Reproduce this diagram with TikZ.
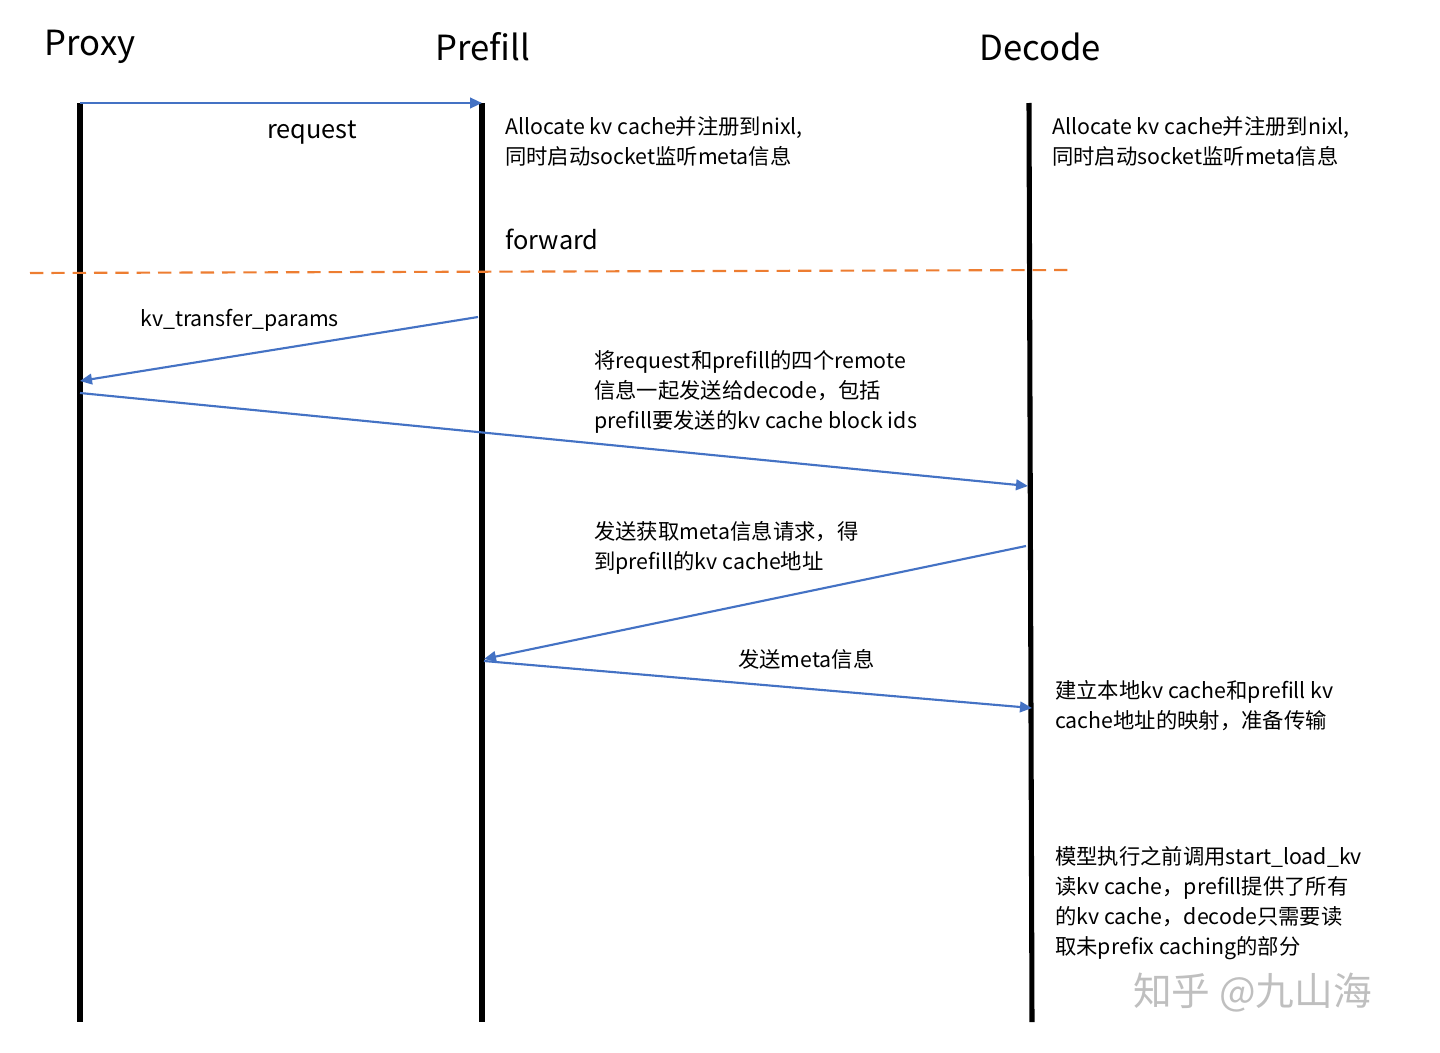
\documentclass[tikz,border=0pt]{standalone}
\usepackage{fontspec}
\setmainfont{Noto Sans CJK SC}
\usetikzlibrary{arrows.meta}
\definecolor{msg}{HTML}{4472C4}
\definecolor{sep}{HTML}{ED7D31}
\begin{document}
\begin{tikzpicture}[x=0.75pt,y=-0.75pt,
  life/.style={line width=3.8pt,black},
  msgarrow/.style={draw=msg,line width=1.6pt,-{Triangle[length=9pt,width=8pt]}},
  title/.style={font=\fontsize{26}{30}\selectfont,inner sep=0},
  note/.style={font=\fontsize{16}{22.5}\selectfont,align=left,anchor=north west,inner sep=0},
  big/.style={font=\fontsize{19}{24}\selectfont,inner sep=0}]
\useasboundingbox (0,0) rectangle (1440,1053);
\node[title] (tproxy) at (90,47) {Proxy};
\node[title] (tprefill) at (483,47) {Prefill};
\node[title] (tdecode) at (1040,47) {Decode};
\coordinate (pxt) at (80,103); \coordinate (pxb) at (80,1022);
\coordinate (pft) at (482,103); \coordinate (pfb) at (482,1022);
\coordinate (dct) at (1029,103); \coordinate (dcb) at (1032,1022);
\draw[life] (pxt) -- (pxb);
\draw[life] (pft) -- (pfb);
\draw[life] (dct) -- (dcb);
\draw[msgarrow] (pxt) -- (pft);
\node[big] (lreq) at (312,133) {request};
\node[note] (n1) at (505,116) {Allocate kv cache并注册到nixl,\\同时启动socket监听meta信息};
\node[note] (n2) at (1052,116) {Allocate kv cache并注册到nixl,\\同时启动socket监听meta信息};
\node[big,anchor=west] (lfw) at (505,239) {forward};
\coordinate (s1) at (30,273); \coordinate (s2) at (1072,270);
\draw[sep,line width=1.6pt,dash pattern=on 10pt off 6pt] (s1) -- (s2);
\coordinate (a1s) at (478,317); \coordinate (a1e) at (80,381);
\draw[msgarrow] (a1s) -- (a1e);
\node[note,anchor=west] (lkv) at (140,320) {kv\_transfer\_params};
\coordinate (a2s) at (80,393); \coordinate (a2e) at (1028,486);
\draw[msgarrow] (a2s) -- (a2e);
\node[note] (l2) at (594,350) {将request和prefill的四个remote\\信息一起发送给decode，包括\\prefill要发送的kv cache block ids};
\coordinate (a3s) at (1026,546); \coordinate (a3e) at (484,659);
\draw[msgarrow] (a3s) -- (a3e);
\node[note] (l3) at (594,521) {发送获取meta信息请求，得\\到prefill的kv cache地址};
\coordinate (a4s) at (484,661); \coordinate (a4e) at (1032,708);
\draw[msgarrow] (a4s) -- (a4e);
\node[note,anchor=west] (l4) at (738,659) {发送meta信息};
\node[note] (n3) at (1055,680) {建立本地kv cache和prefill kv\\cache地址的映射，准备传输};
\node[note] (n4) at (1055,846) {模型执行之前调用start\_load\_kv\\读kv cache，prefill提供了所有\\的kv cache，decode只需要读\\取未prefix caching的部分};
\node[font=\fontsize{29}{32}\selectfont,text=black!25,anchor=west,inner sep=0] (wm) at (1133,993) {知乎 @九山海};
\end{tikzpicture}
\end{document}
